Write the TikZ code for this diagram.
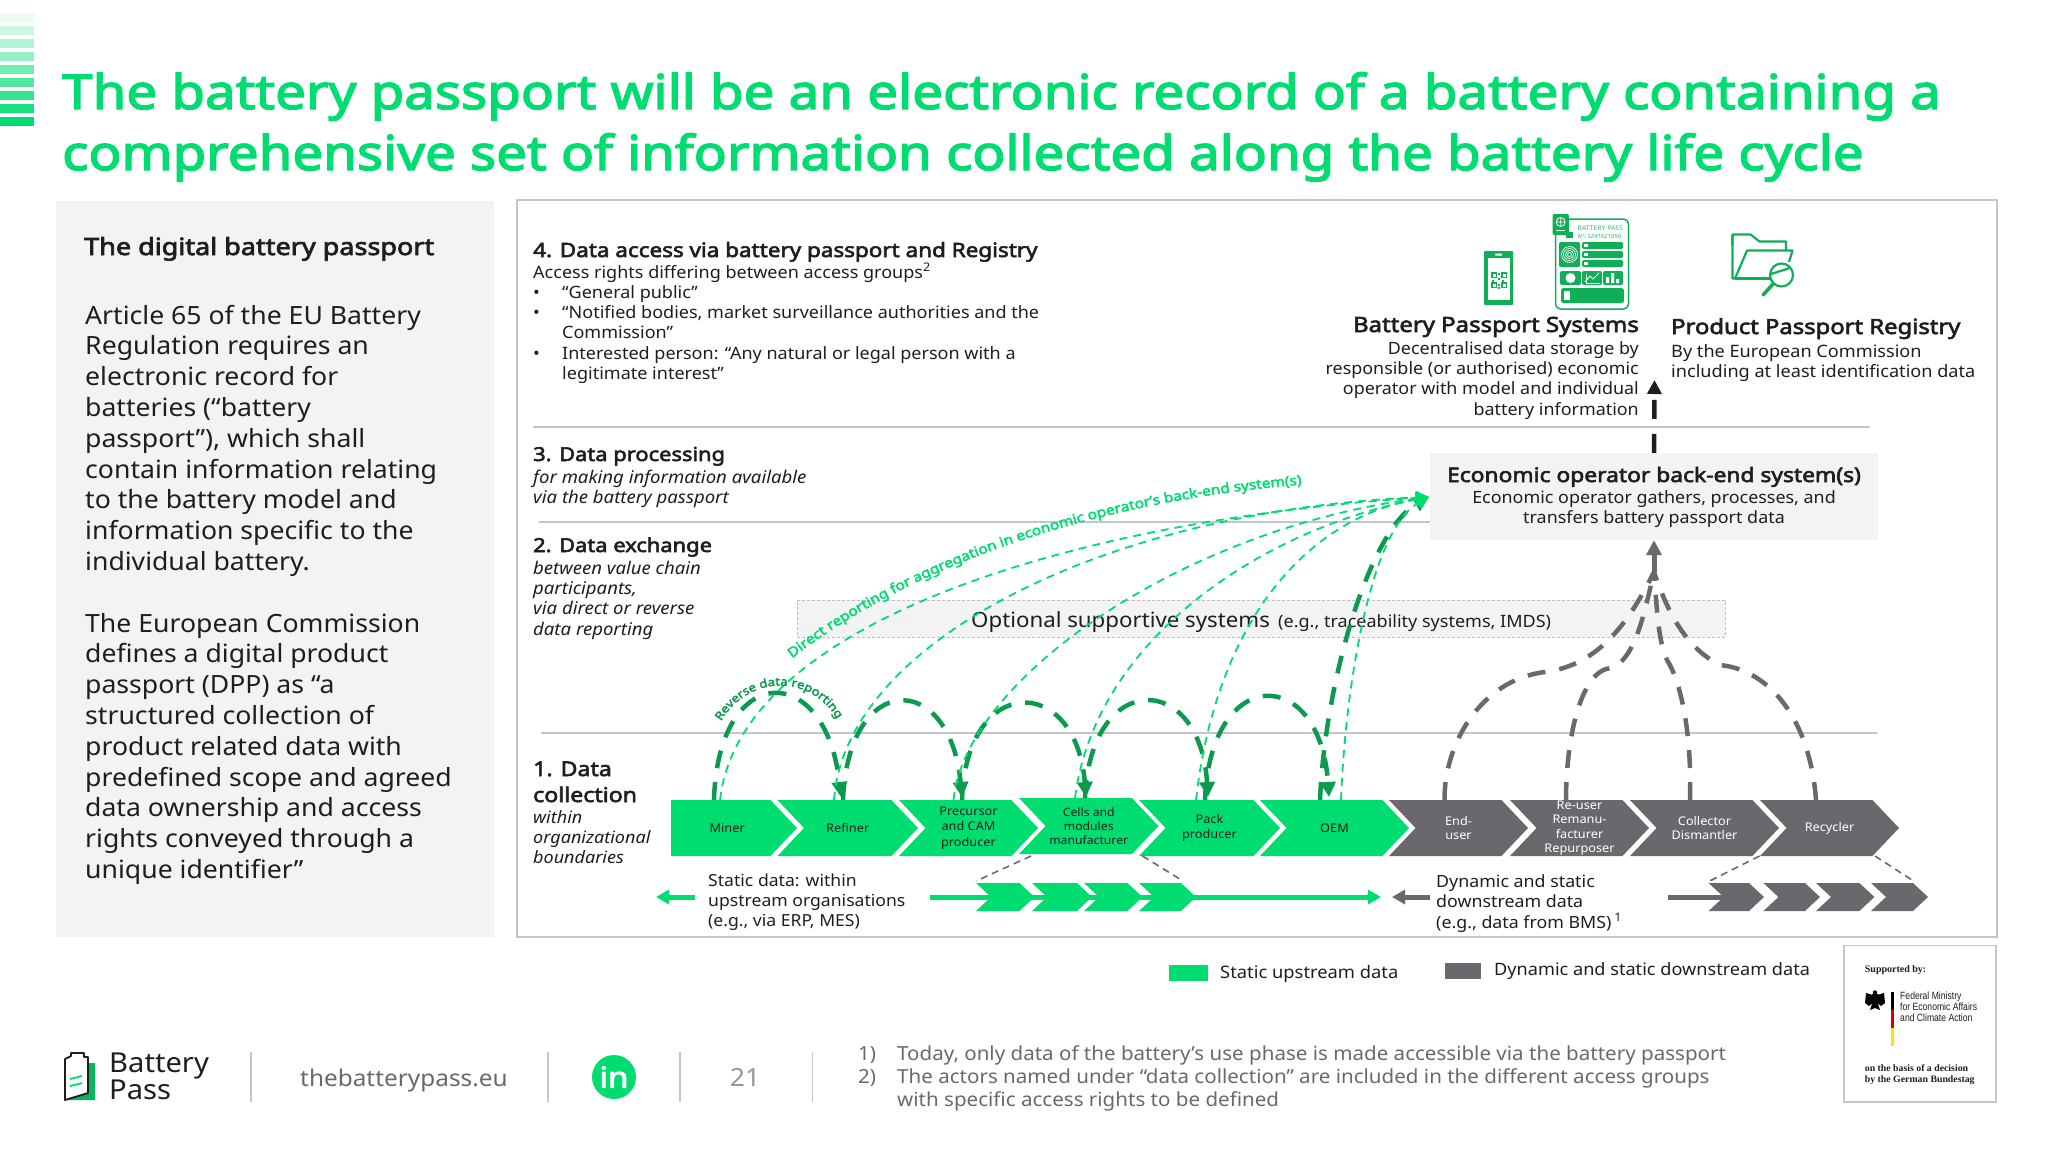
\documentclass[tikz,border=0pt]{standalone}
\usepackage{fontspec}
\setmainfont{Noto Sans}[ItalicFeatures={FakeStretch=1.06},UprightFeatures={FakeStretch=1.06},BoldFont={Noto Sans},BoldFeatures={FakeBold=3,FakeStretch=1.14}]
\newfontfamily\serifx{Liberation Serif}
\newfontfamily\narrowx[FakeStretch=0.82]{Liberation Sans}
\usetikzlibrary{arrows.meta,shapes.symbols,decorations.text}
\definecolor{sgreen}{HTML}{00DD70}
\definecolor{dgreen}{HTML}{0C9A4F}
\definecolor{igreen}{HTML}{0FAE57}
\definecolor{sgray}{HTML}{6A686D}
\definecolor{panel}{HTML}{F3F3F5}
\definecolor{rulec}{HTML}{C6C6CA}
\definecolor{ink}{HTML}{1E1E20}
\newcommand\fs[2]{\fontsize{#1}{#2}\selectfont}
\newcommand\blk[2]{\begin{tabular}[t]{@{}#1@{}}#2\end{tabular}}
\newcommand\chv[7]{%
  \pgfmathsetmacro\cw{#4-#3}\pgfmathsetmacro\cx{(#3+#4)/2}%
  \node[chev=#7,fill=#2,minimum width=\cw pt] (#1) at (\cx,#5) {#6};}
\tikzset{
  chev/.style={signal,signal to=east,signal from=west,signal pointer angle=#1,inner sep=0pt,outer sep=0pt,align=center},
  big/.style={minimum height=56pt,font=\fs{12}{14.5}},
  small/.style={minimum height=28pt},
  lt/.style={anchor=base west,inner sep=0pt,text=ink},
  rt/.style={anchor=base east,inner sep=0pt,text=ink},
  ct/.style={anchor=base,inner sep=0pt,text=ink},
  thing/.style={draw=sgreen,line width=1.8pt,dash pattern=on 8pt off 6pt,-{Triangle[length=13pt,width=13pt]}},
  boldg/.style={draw=dgreen,line width=4.5pt,dash pattern=on 18pt off 14pt,-{Triangle[length=15pt,width=15pt]}},
  grayd/.style={draw=sgray,line width=4.5pt,dash pattern=on 18pt off 14pt},
  zoomd/.style={draw=sgray,line width=1.6pt,dash pattern=on 7pt off 5pt},
  sep/.style={draw=rulec,line width=1.5pt},
  rul/.style={draw=rulec,line width=1.5pt},
  solidg/.style={draw=sgreen,line width=5pt},
  solidk/.style={draw=sgray,line width=5pt},
  iconline/.style={draw=igreen,line width=2.2pt,line join=round},
}
\begin{document}
\begin{tikzpicture}[x=1pt,y=-1pt]
\useasboundingbox (0,0) rectangle (2048,1152);
% stripes
\foreach \yy/\op in {13/.08,26/.2,39/.3,52/.42,65/.55,78/.68,91/.8,104/.9,117/1}{
  \fill[sgreen,opacity=\op] (0,\yy) rectangle (34,\yy+8.5);}
% title
\node[lt,text=sgreen,font=\fs{47.95}{61}\bfseries] (title) at (62,109) {\blk{l}{The battery passport will be an electronic record of a battery containing a\\comprehensive set of information collected along the battery life cycle}};
% left panel
\node[fill=panel,inner sep=0pt,minimum width=438pt,minimum height=736pt,anchor=north west] (leftp) at (56,201) {};
\node[lt,font=\fs{23.7}{31}\bfseries] (leftt) at (84,255) {The digital battery passport};
\node[lt,font=\fs{25.1}{30.8}] (leftb) at (85,324) {\blk{l}{Article 65 of the EU Battery\\Regulation requires an\\electronic record for\\batteries (“battery\\passport”), which shall\\contain information relating\\to the battery model and\\information specific to the\\individual battery.\\[30.8pt]The European Commission\\defines a digital product\\passport (DPP) as “a\\structured collection of\\product related data with\\predefined scope and agreed\\data ownership and access\\rights conveyed through a\\unique identifier”}};
% main frame
\draw[rul] (517,200) rectangle (1997,937);
% divider lines
\coordinate (l1a) at (533,427); \coordinate (l1b) at (1870,427);
\coordinate (l2a) at (539,522); \coordinate (l2b) at (1430,522);
\coordinate (l3a) at (541,733); \coordinate (l3b) at (1877,733);
\draw[rul] (l1a) -- (l1b); \draw[rul] (l2a) -- (l2b); \draw[rul] (l3a) -- (l3b);
% section 4
\node[lt,font=\fs{19.7}{24}\bfseries] (s4) at (533,257) {4. Data access via battery passport and Registry};
\node[lt,font=\fs{17}{20.4}] (s4a) at (533,278) {Access rights differing between access groups\textsuperscript{2}};
\node[lt,font=\fs{17}{20.4}] (s4b) at (533,298) {\blk{l@{}l}{\makebox[29pt][l]{•}&“General public”\\\makebox[29pt][l]{•}&“Notified bodies, market surveillance authorities and the\\&Commission”\\\makebox[29pt][l]{•}&Interested person: “Any natural or legal person with a\\&legitimate interest”}};
% section 3
\node[lt,font=\fs{19.2}{24}\bfseries] (s3) at (533,461) {3. Data processing};
\node[lt,font=\fs{17.5}{20.4}\itshape] (s3a) at (533,483) {\blk{l}{for making information available\\via the battery passport}};
% section 2
\node[lt,font=\fs{19.2}{24}\bfseries] (s2) at (533,552) {2. Data exchange};
\node[lt,font=\fs{17.5}{20.4}\itshape] (s2a) at (533,574) {\blk{l}{between value chain\\participants,\\via direct or reverse\\data reporting}};
% section 1
\node[lt,font=\fs{20.3}{26}\bfseries] (s1) at (533,776) {\blk{l}{1. Data\\collection}};
\node[lt,font=\fs{17}{20.4}\itshape] (s1a) at (533,823) {\blk{l}{within\\organizational\\boundaries}};
% optional box
\node[draw=black!25,dash pattern=on 3pt off 2pt,line width=.8pt,fill=panel,inner sep=0pt,minimum width=928pt,minimum height=37pt,anchor=north west] (opt) at (797,600) {};
\node[lt,font=\fs{21}{24},text=ink] (optt) at (971,627) {Optional supportive systems};
\node[lt,font=\fs{17}{20},text=ink] (optu) at (1278,627) {(e.g., traceability systems, IMDS)};
% eco box
\node[fill=panel,inner sep=0pt,minimum width=447.5pt,minimum height=87pt] (eco) at (1654,496.5) {};
\node[ct,font=\fs{20}{24}\bfseries] (ecot) at (1654,482) {Economic operator back-end system(s)};
\node[ct,font=\fs{16.9}{20.6}] (ecob) at (1654,503) {\blk{c}{Economic operator gathers, processes, and\\transfers battery passport data}};
% chevrons
\node[signal,signal to=east,signal from=nowhere,signal pointer angle=93,inner sep=0pt,outer sep=0pt,align=center,fill=sgreen,big,minimum width=126pt,anchor=west,text=ink] (miner) at (671,828) {\makebox[0pt]{\hspace{13pt}Miner}};
\chv{refiner}{sgreen,big,text=ink}{777.5}{918}{828}{Refiner}{93}
\chv{precursor}{sgreen,big,text=ink,font=\fs{12}{15.5}}{899}{1038}{828}{Precursor\\and CAM\\producer}{93}
\chv{cells}{sgreen,big,text=ink,font=\fs{11.5}{14}}{1019}{1158.5}{826}{Cells and\\modules\\manufacturer}{93}
\chv{pack}{sgreen,big,text=ink}{1139}{1280}{828}{Pack\\producer}{93}
\chv{oem}{sgreen,big,text=ink}{1260}{1409}{828}{OEM}{93}
\chv{enduser}{sgray,big,text=white}{1389}{1528}{828}{End-\\user}{93}
\chv{reuser}{sgray,big,text=white,font=\fs{12}{14.4}}{1510}{1649}{828}{Re-user\\Remanu-\\facturer\\Repurposer}{93}
\chv{collector}{sgray,big,text=white}{1630}{1779}{828}{Collector\\Dismantler}{93}
\chv{recycler}{sgray,big,text=white}{1760}{1899}{828}{Recycler}{93}
% anchors on chevrons
\coordinate (gMin) at (720,800); \coordinate (gRef) at (834,800); \coordinate (gPre) at (953.5,800);
\coordinate (gCel) at (1075,798); \coordinate (gPac) at (1196,800); \coordinate (gOem) at (1341,800);
\coordinate (dOem) at (1320,800);
\coordinate (eIn) at (1429,497);
% bold reverse arcs
\coordinate (r1a) at (714,800); \coordinate (r1b) at (841,797);
\coordinate (r2a) at (843,800); \coordinate (r2b) at (962,797);
\coordinate (r3a) at (962,800); \coordinate (r3b) at (1086,797);
\coordinate (r4a) at (1085,798); \coordinate (r4b) at (1208,797);
\coordinate (r5a) at (1205,800); \coordinate (r5b) at (1329,797);
\draw[boldg] (r1a) .. controls (718,660) and (826,660) .. (r1b);
\draw[boldg] (r2a) .. controls (848,670) and (950,670) .. (r2b);
\draw[boldg] (r3a) .. controls (966,673) and (1076,673) .. (r3b);
\draw[boldg] (r4a) .. controls (1090,670) and (1200,670) .. (r4b);
\draw[boldg] (r5a) .. controls (1210,664) and (1320,664) .. (r5b);
\draw[boldg] (dOem) .. controls (1325,680) and (1370,530) .. (eIn);
% thin direct reporting
\draw[thing] (gMin) .. controls (740,620) and (1080,520) .. (eIn);
\draw[thing] (gRef) .. controls (845,640) and (1110,510) .. (eIn);
\draw[thing] (gPre) .. controls (965,680) and (1180,530) .. (eIn);
\draw[thing] (gCel) .. controls (1095,640) and (1260,530) .. (eIn);
\draw[thing] (gPac) .. controls (1215,630) and (1300,520) .. (eIn);
\draw[thing] (gOem) .. controls (1345,690) and (1370,530) .. (eIn);
% curved labels
\path[decorate,decoration={text along path,text align={center},text={|\fs{13.5}{14}\bfseries\color{sgreen}|Direct reporting for aggregation in economic operator’s back-end system(s)}}] (785,664) .. controls (900,570) and (1090,500) .. (1310,484);
\path[decorate,decoration={text along path,text align={center},text={|\fs{11.5}{13}\bfseries\color{dgreen}|Reverse data reporting}}] (718,727) .. controls (745,672) and (815,672) .. (840,725);
% gray arcs
\coordinate (gEnd) at (1444.5,800); \coordinate (gReu) at (1566,800); \coordinate (gCol) at (1690,800); \coordinate (gRec) at (1816,800);
\coordinate (gMerge) at (1654,572);
\draw[grayd] (gEnd) .. controls (1444,745) and (1480,680) .. (1545,672) .. controls (1600,665) and (1630,620) .. (gMerge);
\draw[grayd] (gReu) .. controls (1566,740) and (1580,672) .. (1610,668) .. controls (1635,662) and (1645,610) .. (gMerge);
\draw[grayd] (gCol) .. controls (1692,730) and (1680,680) .. (1667,660) .. controls (1658,640) and (1657,610) .. (gMerge);
\draw[grayd] (gRec) .. controls (1810,720) and (1770,670) .. (1720,665) .. controls (1690,650) and (1670,620) .. (gMerge);
\draw[draw=sgray,line width=5pt,-{Triangle[length=15pt,width=15pt]}] (gMerge) -- (eco.south);
% black arrow
\coordinate (bpTip) at (1654.5,380);
\draw[draw=ink,line width=4.5pt,dash pattern=on 19pt off 15pt,-{Triangle[length=14pt,width=14pt]}] (eco.north) -- (bpTip);
% headings right
\node[rt,font=\fs{21}{24}\bfseries] (bps) at (1639,332) {Battery Passport Systems};
\node[rt,font=\fs{16.9}{20.4}] (bpst) at (1639,354) {\blk{r}{Decentralised data storage by\\responsible (or authorised) economic\\operator with model and individual\\battery information}};
\node[lt,font=\fs{20.9}{24}\bfseries] (ppr) at (1671,334) {Product Passport Registry};
\node[lt,font=\fs{17.1}{20.4}] (pprt) at (1671,357) {\blk{l}{By the European Commission\\including at least identification data}};
% phone icon
\fill[igreen,rounded corners=1pt] (1484,251) rectangle (1513,305);
\fill[white] (1487.5,258) rectangle (1509.5,300);
\fill[white,rounded corners=.5pt] (1495,253.5) rectangle (1502,255.5);
\foreach \qx/\qy in {1492/273,1502/273,1492/283,1502/283}{\draw[igreen,line width=1.2pt] (\qx,\qy) rectangle (\qx+4.5,\qy+4.5);}
\foreach \qx/\qy in {1498/273,1498/278,1492/279.5,1502/279.5,1498/284,1498/287}{\fill[igreen] (\qx,\qy) rectangle (\qx+2,\qy+2);}
% passport icon
\draw[igreen,line width=1.5pt,rounded corners=5pt,fill=white] (1555.5,219) rectangle (1628.5,309);
\fill[igreen,rounded corners=2pt] (1552.5,214) rectangle (1569,235);
\fill[igreen] (1566,232) rectangle (1573,238);
\draw[white,line width=.8pt] (1560.7,222) circle[radius=4.5pt] (1556,222) -- (1565.4,222) (1560.7,217.5) -- (1560.7,226.5);
\draw[white,line width=.8pt] (1556,230) -- (1565,230);
\node[lt,font=\fs{6.4}{8},text=igreen!85!white] (bpass) at (1577.5,230) {BATTERY PASS};
\node[lt,font=\fs{5.8}{8}\itshape,text=igreen!85!white] (bpnum) at (1577.5,238) {Nº- SZ41621956};
\fill[igreen,rounded corners=2pt] (1559,242) rectangle (1580,267);
\foreach \fr in {2,4,6,8}{\draw[white,line width=.7pt] (1569.5,254.5) circle[radius=\fr pt];}
\foreach \by in {242,251,260}{\fill[igreen,rounded corners=1.5pt] (1582,\by) rectangle (1623,\by+7);\fill[white] (1584,\by+2) rectangle (1588,\by+5);}
\fill[igreen,rounded corners=2pt] (1560,271) rectangle (1581,285);
\fill[igreen,rounded corners=2pt] (1582,271) rectangle (1602,285);
\fill[igreen,rounded corners=2pt] (1603,271) rectangle (1623,285);
\fill[white] (1570.5,278) circle[radius=5pt];
\draw[white,line width=1pt] (1585,282) -- (1590,276) -- (1593,279) -- (1599,273);
\draw[white,line width=.7pt] (1586,274) -- (1586,283) -- (1600,283);
\fill[white] (1606,277) rectangle (1609,283) (1611,273) rectangle (1614,283) (1616,279) rectangle (1619,283);
\fill[igreen,rounded corners=2.5pt] (1561,288) rectangle (1624,303);
\fill[white] (1563.5,291) rectangle (1570,300);
% folder icon
\draw[iconline] (1732,245) -- (1732.5,234.5) -- (1750.5,234.5) -- (1759.5,241.5) -- (1786,241.5) -- (1786,250);
\draw[iconline] (1732.5,234.5) -- (1732.5,278.5) -- (1735,278.5) -- (1747,250.5) -- (1792.5,250.5) -- (1789,262);
\draw[iconline] (1735,278.5) -- (1770,278.5);
\draw[iconline,fill=white] (1781.5,275) circle[radius=11.5pt];
\draw[draw=igreen,line width=3.5pt,line cap=round] (1773,284) -- (1763,295);
\draw[iconline] (1771,274) -- (1790,268);
% bottom row upstream
\coordinate (upB) at (695,897); \coordinate (upA) at (656,897);
\draw[solidg,-{Triangle[length=13pt,width=14pt]}] (upB) -- (upA);
\node[lt,font=\fs{16.6}{20.4}] (upt) at (708,886) {\blk{l}{Static data: within\\upstream organisations\\(e.g., via ERP, MES)}};
\coordinate (upC) at (930,897); \coordinate (upD) at (1381,897);
\draw[solidg,-{Triangle[length=13pt,width=14pt]}] (upC) -- (upD);
\chv{sg1}{sgreen,small}{976}{1034.5}{897}{}{86}
\chv{sg2}{sgreen,small}{1032}{1092}{897}{}{86}
\chv{sg3}{sgreen,small}{1084}{1142.5}{897}{}{86}
\chv{sg4}{sgreen,small}{1139}{1196}{897}{}{86}
\coordinate (zgA) at (1031,856); \coordinate (zgB) at (976,881); \coordinate (zgC) at (1142.5,856); \coordinate (zgD) at (1183,881);
\draw[zoomd] (zgA) -- (zgB); \draw[zoomd] (zgC) -- (zgD);
% downstream
\coordinate (dnB) at (1430,897); \coordinate (dnA) at (1392,897);
\draw[solidk,-{Triangle[length=13pt,width=14pt]}] (dnB) -- (dnA);
\node[lt,font=\fs{16.8}{20.4}] (dnt) at (1436,887) {\blk{l}{Dynamic and static\\downstream data\\(e.g., data from BMS)\,\textsuperscript{1}}};
\coordinate (dnC) at (1667.5,897); \coordinate (dnD) at (1725,897);
\draw[solidk] (dnC) -- (dnD);
\chv{sk1}{sgray,small}{1708.6}{1764}{897}{}{86}
\chv{sk2}{sgray,small}{1763.4}{1820}{897}{}{86}
\chv{sk3}{sgray,small}{1816}{1874.4}{897}{}{86}
\chv{sk4}{sgray,small}{1871}{1928}{897}{}{86}
\coordinate (zkA) at (1759.5,856); \coordinate (zkB) at (1707.7,882); \coordinate (zkC) at (1875,856); \coordinate (zkD) at (1915,882);
\draw[zoomd] (zkA) -- (zkB); \draw[zoomd] (zkC) -- (zkD);
% legend
\node[fill=sgreen,inner sep=0pt,minimum width=39pt,minimum height=16pt,anchor=north west] (legg) at (1169,965) {};
\node[lt,font=\fs{17.3}{20}] (leggt) at (1220,978) {Static upstream data};
\node[fill=sgray,inner sep=0pt,minimum width=36pt,minimum height=16pt,anchor=north west] (legk) at (1445,963) {};
\node[lt,font=\fs{17.1}{20}] (legkt) at (1494,975) {Dynamic and static downstream data};
% supported box
\draw[rul] (1844,945.7) rectangle (1996,1102);
\node[lt,font=\fs{10}{11}\serifx\bfseries] (sup) at (1864.7,972) {Supported by:};
\fill[black] (1890.7,991.7) rectangle (1894,1010);
\fill[red!85!black] (1890.7,1010) rectangle (1894,1027.7);
\fill[yellow!85!orange] (1890.7,1027.7) rectangle (1894,1045.7);
\fill[black] (1875,992.5) circle[radius=2.2pt];
\fill[black] (1873,995)--(1866,993)--(1865,1003)--(1869,1006)--(1873,1003)--cycle;
\fill[black] (1877,995)--(1884,993)--(1885,1003)--(1881,1006)--(1877,1003)--cycle;
\fill[black] (1872,994)--(1878,994)--(1878,1004)--(1880,1010)--(1875,1008)--(1870,1010)--(1872,1004)--cycle;
\node[lt,font=\fs{10.5}{11}\narrowx,text=ink] (bmw) at (1900,999) {\blk{l}{Federal Ministry\\for Economic Affairs\\and Climate Action}};
\node[lt,font=\fs{9.8}{11}\serifx\bfseries] (sup2) at (1864.7,1071.7) {\blk{l}{on the basis of a decision\\by the German Bundestag}};
% footer
\fill[dgreen!60!sgreen] (88,1063) -- (95,1063) -- (95,1100) -- (65,1100) -- (88,1093) -- cycle;
\draw[draw=ink,line width=1.8pt,line join=round,fill=white] (65,1059) -- (71,1056) -- (71,1053) -- (84,1053) -- (84,1057) -- (88,1057) -- (88,1093) -- (65,1100) -- cycle;
\draw[draw=sgreen,line width=1.8pt] (70,1079) -- (82,1076) (70,1086) -- (82,1083);
\node[lt,font=\fs{27.5}{26}] (logo) at (109,1072) {\blk{l}{Battery\\Pass}};
\coordinate (s1t) at (251,1052); \coordinate (s1b) at (251,1102);
\coordinate (s2t) at (548,1052); \coordinate (s2b) at (548,1102);
\coordinate (s3t) at (680,1052); \coordinate (s3b) at (680,1102);
\coordinate (s4t) at (812.5,1052); \coordinate (s4b) at (812.5,1102);
\draw[sep] (s1t) -- (s1b); \draw[sep] (s2t) -- (s2b); \draw[sep] (s3t) -- (s3b); \draw[sep] (s4t) -- (s4b);
\node[lt,font=\fs{23}{26},text=sgray] (url) at (300,1086) {thebatterypass.eu};
\node[circle,fill=sgreen,minimum size=44pt,inner sep=0pt,text=white,font=\fs{29}{30}\bfseries] (lnk) at (614,1077) {in};
\node[ct,font=\fs{25}{26},text=sgray!70] (pgn) at (745,1086) {21};
\node[lt,font=\fs{19.4}{23},text=sgray] (fnn) at (858,1060) {\blk{l@{}l}{\makebox[39pt][l]{1)}&Today, only data of the battery’s use phase is made accessible via the battery passport\\\makebox[39pt][l]{2)}&The actors named under “data collection” are included in the different access groups\\&with specific access rights to be defined}};
\end{tikzpicture}
\end{document}
